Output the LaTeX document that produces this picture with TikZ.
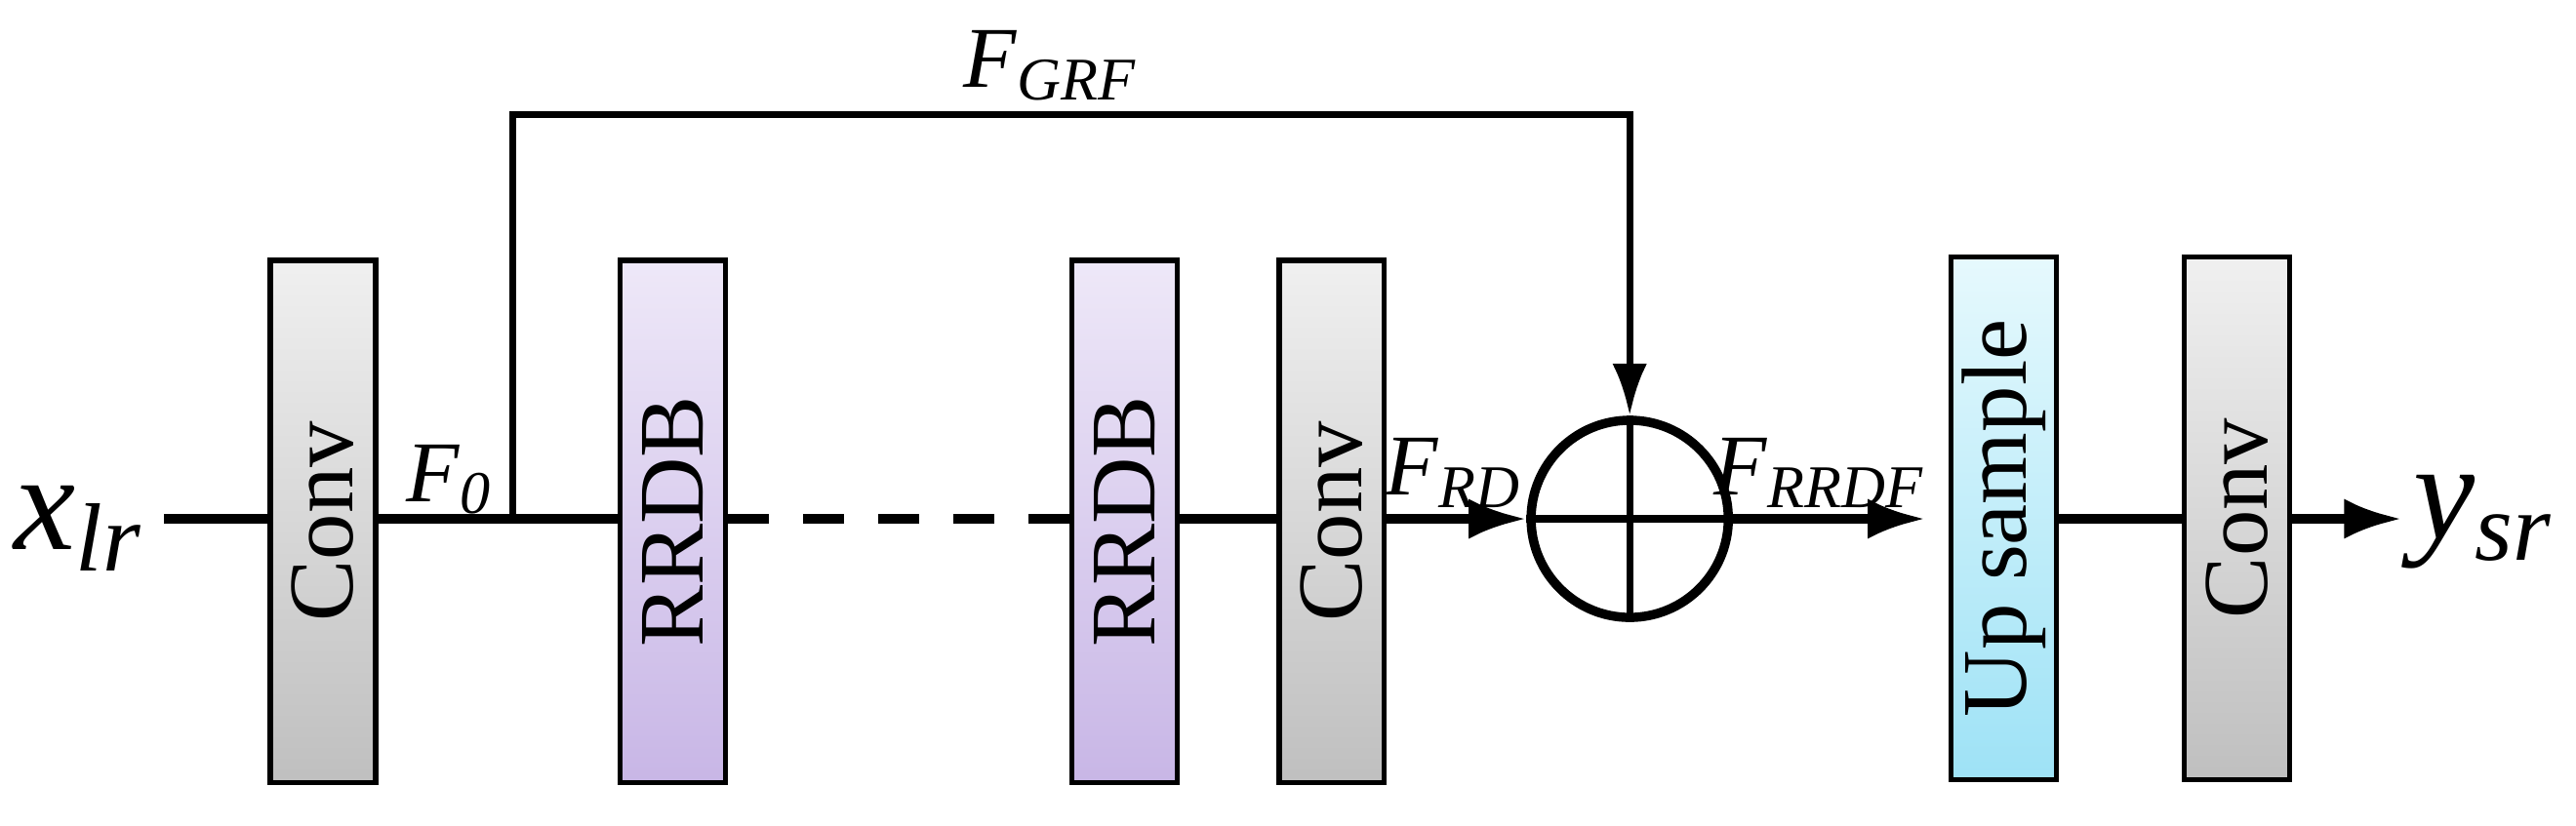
\documentclass[tikz,border=0pt]{standalone}
\usepackage{fontspec}
\setmainfont{Liberation Serif}
\usetikzlibrary{arrows.meta}
\definecolor{ptop}{HTML}{EEE8F8}
\definecolor{pbot}{HTML}{C8B6E6}
\definecolor{ctop}{HTML}{E6F9FD}
\definecolor{cbot}{HTML}{9EE2F6}
\newcommand{\lab}[2]{\textit{#1}\textsubscript{\textit{#2}}}
\begin{document}
\begin{tikzpicture}[x=0.01cm,y=-0.01cm,
 blk/.style={draw=black,line width=0.9pt,minimum width=0.64cm,minimum height=3.18cm,anchor=north west,inner sep=0},
 gray/.style={blk,top color=gray!12,bottom color=gray!50},
 purp/.style={blk,top color=ptop,bottom color=pbot},
 cyan/.style={blk,top color=ctop,bottom color=cbot},
 lbl/.style={rotate=90,font=\fontsize{16}{18}\selectfont},
 ln/.style={line width=1.6pt},
 arr/.style={ln,-{Latex[length=10pt,width=7pt]}},
 tx/.style={font=\fontsize{15}{17}\selectfont}]
\useasboundingbox (0,0) rectangle (1568,503);
\node[gray] (c1) at (163,157) {};
\node[lbl] at (c1.center) {Conv};
\node[purp] (r1) at (376,157) {};
\node[lbl] at (r1.center) {RRDB};
\node[purp] (r2) at (651,157) {};
\node[lbl] at (r2.center) {RRDB};
\node[gray] (c2) at (777,157) {};
\node[lbl] at (c2.center) {Conv};
\node[cyan] (up) at (1186,155) {};
\node[lbl] at (up.center) {Up sample};
\node[gray] (c3) at (1328,155) {};
\node[lbl] at (c3.center) {Conv};
\node[draw,circle,line width=1.6pt,minimum size=1.2cm,inner sep=0] (sum) at (992,316) {};
\draw[line width=1.2pt] (sum.north) -- (sum.south) (sum.west) -- (sum.east);
\coordinate (in) at (100,316);
\coordinate (br) at (312,316);
\coordinate (t1) at (312,70);
\coordinate (t2) at (992,70);
\coordinate (out1) at (1172,316);
\coordinate (out2) at (1462,316);
\node[font=\fontsize{24}{26}\selectfont] (xl) at (48,322) {\lab{x}{lr}};
\node[font=\fontsize{24}{26}\selectfont] (ys) at (1512,318) {\lab{y}{sr}};
\draw[ln] (in) -- (c1.west|-in);
\draw[ln] (c1.east|-in) -- (r1.west|-in);
\draw[ln,dash pattern=on 7pt off 6pt] (r1.east|-in) -- (r2.west|-in);
\draw[ln] (r2.east|-in) -- (c2.west|-in);
\draw[arr] (c2.east|-in) -- (sum.west);
\draw[arr] (sum.east) -- (out1);
\draw[ln] (up.east|-in) -- (c3.west|-in);
\draw[arr] (c3.east|-in) -- (out2);
\draw[line width=1.2pt,-{Latex[length=9pt,width=6pt]}] (br) -- (t1) -- (t2) -- (sum.north);
\node[tx] at (274,292) {\lab{F}{0}};
\node[tx] at (640,40) {\lab{F}{GRF}};
\node[tx] at (885,288) {\lab{F}{RD}};
\node[tx] at (1108,288) {\lab{F}{RRDF}};
\end{tikzpicture}
\end{document}
